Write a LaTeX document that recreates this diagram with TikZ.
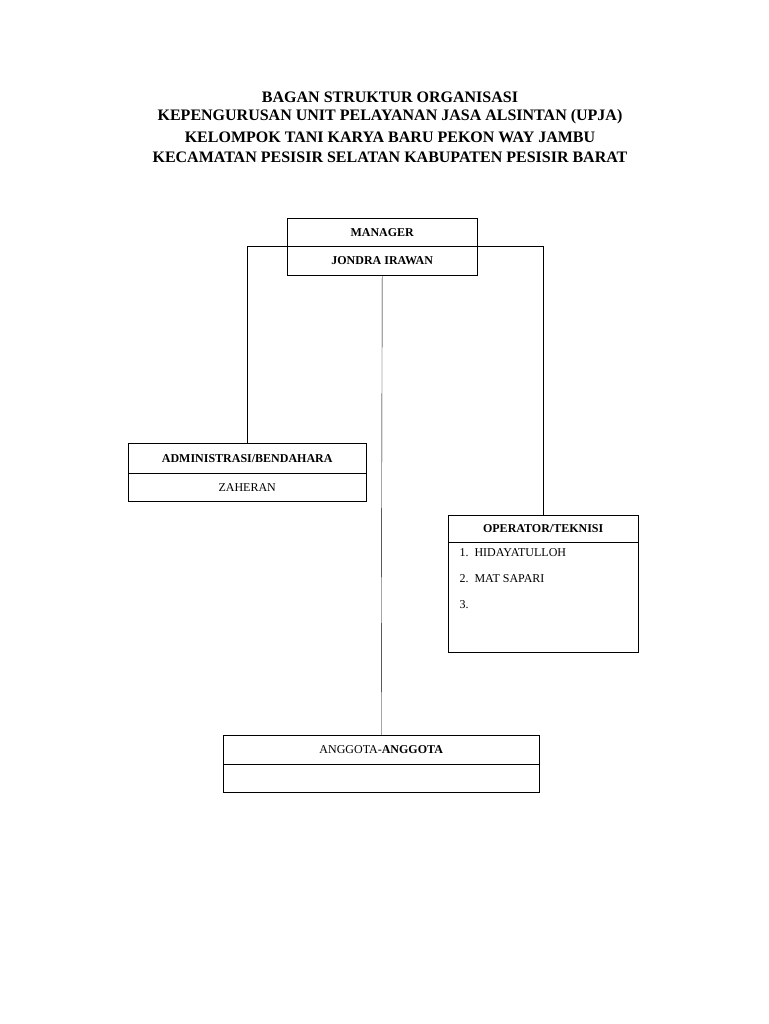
\documentclass[tikz,border=0pt]{standalone}
\usepackage{fontspec}
\setmainfont{Liberation Serif}
\begin{document}
\begin{tikzpicture}[x=1pt,y=-1pt,
  box/.style={draw,rectangle,anchor=north west,inner sep=0pt,font=\fontsize{12}{14}\selectfont},
  title/.style={font=\fontsize{16}{19}\selectfont\bfseries}]
  \useasboundingbox (0,0) rectangle (768,1024);
  % judul
  \node[title] (t1) at (390,97) {BAGAN STRUKTUR ORGANISASI};
  \node[title] (t2) at (390,117) {KEPENGURUSAN UNIT PELAYANAN JASA ALSINTAN (UPJA)};
  \node[title] (t3) at (390,137) {KELOMPOK TANI KARYA BARU PEKON WAY JAMBU};
  \node[title] (t4) at (390,157) {KECAMATAN PESISIR SELATAN KABUPATEN PESISIR BARAT};
  % manager
  \node[box,minimum width=190,minimum height=28] (mgrT) at (287,218) {\bfseries MANAGER};
  \node[box,minimum width=190,minimum height=29] (mgrB) at (287,246) {\bfseries JONDRA IRAWAN};
  % administrasi
  \node[box,minimum width=238,minimum height=30] (admT) at (128,443) {\bfseries ADMINISTRASI/BENDAHARA};
  \node[box,minimum width=238,minimum height=28] (admB) at (128,473) {ZAHERAN};
  % operator
  \node[box,minimum width=190,minimum height=27] (opT) at (448,515) {\bfseries OPERATOR/TEKNISI};
  \node[box,minimum width=190,minimum height=110] (opB) at (448,542) {};
  \node[anchor=west,font=\fontsize{12}{14}\selectfont] (op1) at (456,553) {1.\ \ HIDAYATULLOH};
  \node[anchor=west,font=\fontsize{12}{14}\selectfont] (op2) at (456,579) {2.\ \ MAT SAPARI};
  \node[anchor=west,font=\fontsize{12}{14}\selectfont] (op3) at (456,605) {3.};
  % anggota
  \node[box,minimum width=316,minimum height=29] (angT) at (223,735) {ANGGOTA-\textbf{ANGGOTA}};
  \node[box,minimum width=316,minimum height=28] (angB) at (223,764) {};
  % garis
  \draw (mgrB.north west) -| (admT.north);
  \draw (mgrB.north east) -| (opT.north);
  \draw (mgrB.south) -- (angT.north);
\end{tikzpicture}
\end{document}
